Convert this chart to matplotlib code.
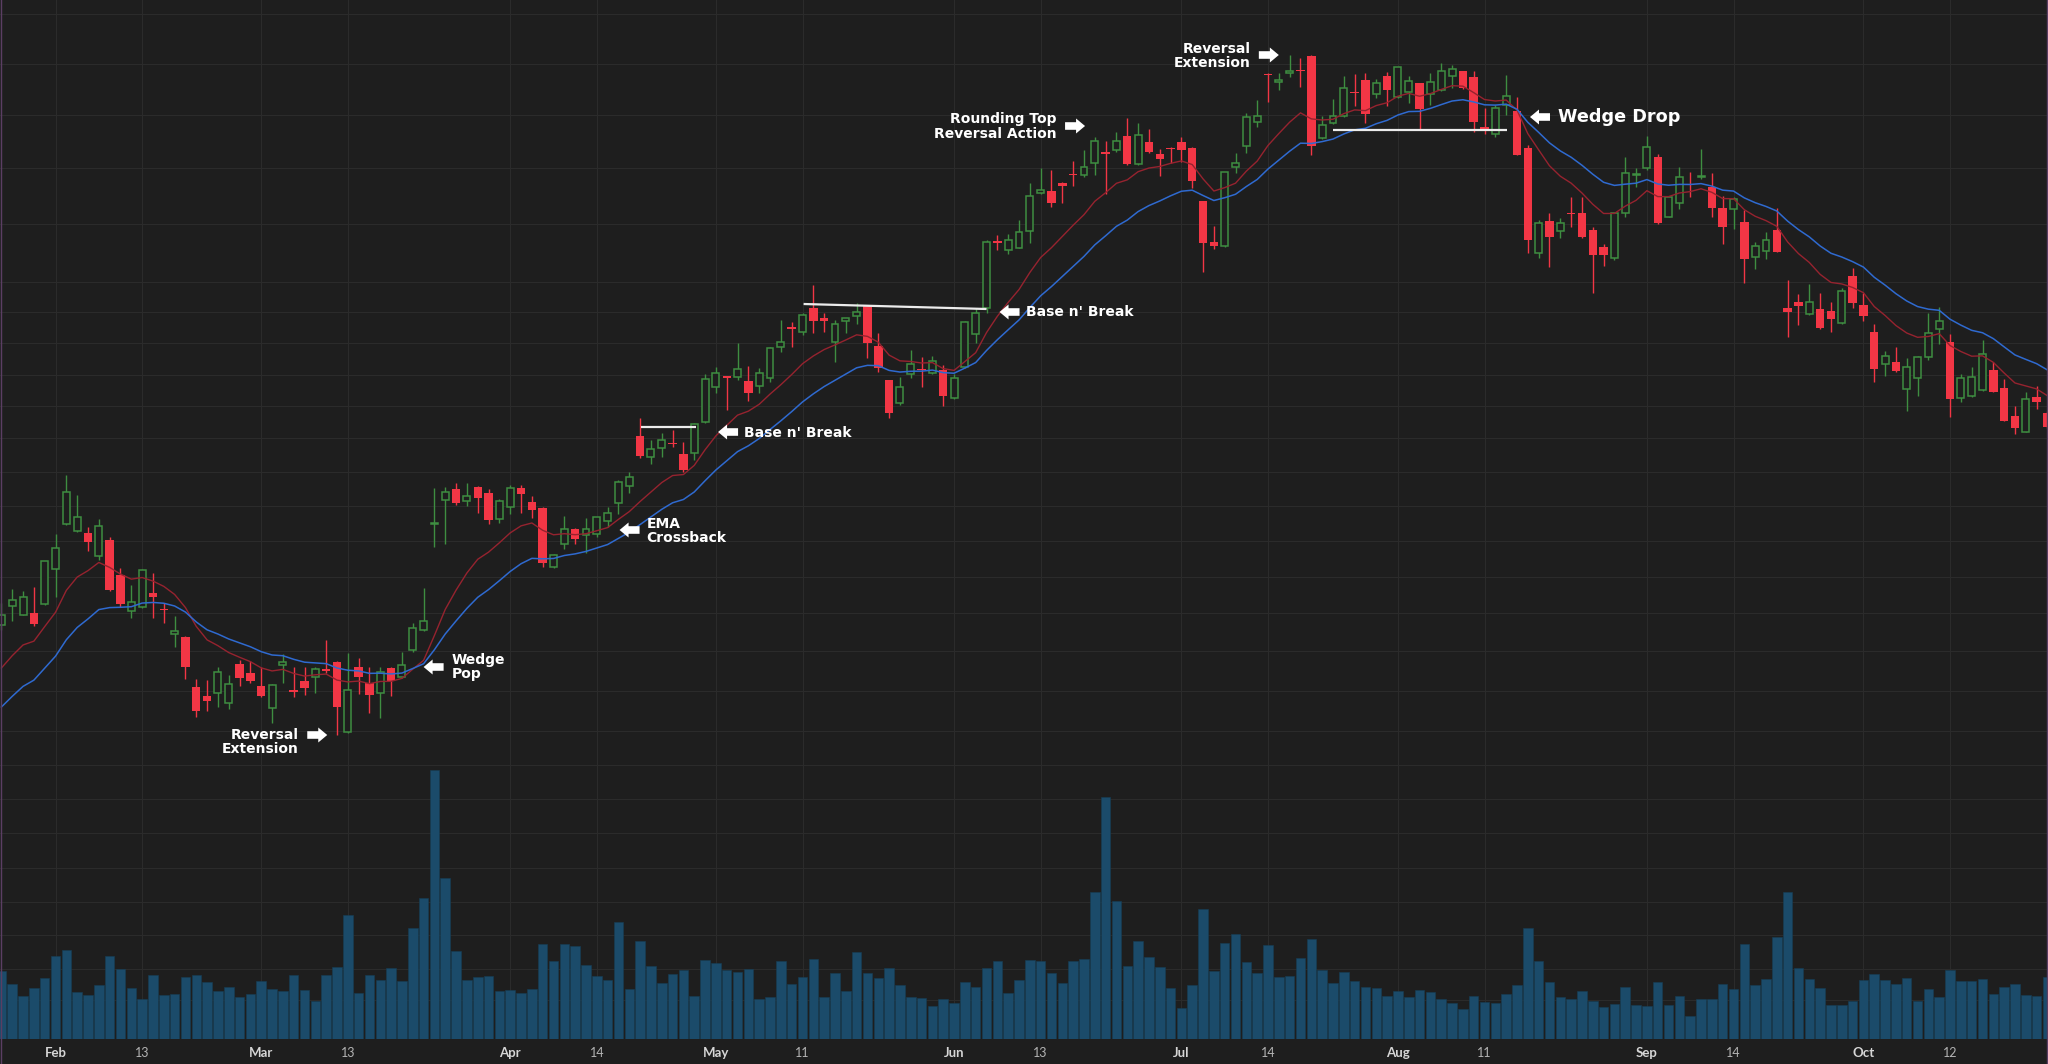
import numpy as np
import pandas as pd
import matplotlib
matplotlib.use("Agg")
import matplotlib.pyplot as plt
from matplotlib import transforms
from matplotlib.patches import Polygon
from matplotlib.lines import Line2D
from matplotlib.ticker import FixedLocator

# ─── Data ────────────────────────────────────────────────────────────
holidays = ['2023-02-20', '2023-04-07', '2023-05-29', '2023-06-19',
            '2023-07-04', '2023-09-04']
dates = pd.bdate_range('2023-01-25', '2023-10-25', freq='C', holidays=holidays)

opens = [37.50, 39.40, 38.50, 38.67, 39.60, 43.07, 47.63, 46.90, 46.67, 44.43,
         46.00, 42.50, 38.90, 39.33, 40.67, 39.03, 36.57, 36.33, 31.33, 30.37,
         30.70, 29.73, 33.60, 32.70, 31.37, 29.17, 33.53, 31.00, 31.90, 32.30,
         33.07, 33.77, 26.83, 33.27, 31.73, 30.67, 33.17, 32.33, 35.00, 37.00,
         47.60, 50.00, 51.07, 49.90, 51.33, 50.67, 48.07, 49.33, 51.17, 49.83,
         49.23, 43.27, 45.60, 47.13, 46.50, 46.60, 47.93, 49.73, 51.40, 56.40,
         54.33, 55.17, 55.70, 54.60, 54.67, 57.77, 61.27, 62.40, 62.27, 61.93,
         61.40, 62.17, 65.33, 67.33, 66.77, 69.23, 68.17, 65.83, 67.93, 68.40,
         69.43, 65.40, 62.00, 59.67, 62.57, 63.10, 62.67, 63.00, 60.17, 63.33,
         66.57, 69.17, 75.90, 75.00, 75.17, 76.90, 80.67, 80.90, 81.67, 82.60,
         82.50, 83.67, 84.77, 85.00, 86.43, 83.60, 85.77, 84.57, 85.17, 85.77,
         85.23, 79.90, 75.83, 75.40, 83.27, 85.40, 87.77, 92.60, 91.83, 92.70,
         93.00, 94.40, 86.17, 87.67, 88.40, 90.73, 92.00, 90.57, 92.40, 90.27,
         90.83, 91.73, 90.60, 91.00, 92.40, 92.90, 92.33, 87.27, 86.57, 89.50,
         88.93, 85.17, 74.67, 77.90, 76.93, 78.67, 78.67, 77.00, 75.27, 74.17,
         78.67, 82.50, 83.17, 84.27, 78.33, 79.73, 81.53, 82.33, 81.27, 79.23,
         79.10, 77.83, 74.27, 74.93, 77.00, 69.23, 69.83, 68.57, 69.07, 68.93,
         67.73, 72.43, 69.50, 66.83, 63.60, 63.80, 61.10, 62.17, 64.33, 67.13,
         65.83, 60.17, 60.43, 61.00, 63.00, 61.17, 58.40, 56.83, 60.27, 58.67]
highs = [39.67, 41.07, 40.93, 41.33, 43.95, 46.60, 52.50, 50.50, 47.33, 48.13,
         46.33, 43.17, 41.50, 43.07, 42.67, 39.67, 38.40, 36.40, 32.07, 32.00,
         33.33, 32.50, 34.00, 33.90, 33.33, 31.60, 34.57, 33.33, 33.33, 33.27,
         36.00, 33.90, 34.67, 34.17, 33.33, 33.33, 33.33, 34.83, 37.73, 41.17,
         51.17, 51.27, 51.67, 51.67, 51.40, 51.07, 50.07, 51.50, 51.50, 50.43,
         49.27, 44.60, 48.40, 47.23, 48.17, 48.33, 49.33, 52.00, 52.83, 58.17,
         56.00, 56.67, 57.00, 55.83, 57.67, 62.60, 63.33, 62.45, 65.67, 63.40,
         63.17, 65.33, 68.00, 67.83, 68.67, 71.50, 68.73, 68.00, 68.25, 69.67,
         69.50, 66.73, 62.05, 62.27, 65.00, 64.33, 64.40, 63.50, 62.60, 67.90,
         69.17, 76.00, 76.50, 76.60, 78.00, 81.67, 83.17, 83.00, 81.83, 83.93,
         85.00, 86.33, 85.90, 86.83, 88.17, 87.67, 87.10, 85.07, 85.27, 86.27,
         85.33, 79.95, 77.40, 82.80, 84.67, 88.67, 90.00, 92.67, 92.73, 94.50,
         94.17, 94.50, 88.40, 90.07, 92.40, 92.57, 92.67, 92.07, 92.83, 93.35,
         92.40, 91.75, 92.67, 93.67, 93.50, 92.93, 92.90, 89.17, 89.50, 92.50,
         90.33, 85.50, 78.00, 78.67, 78.17, 80.33, 80.27, 77.33, 75.60, 78.73,
         84.27, 83.17, 86.40, 84.60, 80.40, 83.33, 82.83, 85.07, 82.67, 80.40,
         80.33, 79.00, 75.77, 76.83, 79.17, 72.00, 70.57, 71.57, 70.67, 69.77,
         71.23, 73.17, 70.73, 67.57, 64.93, 65.33, 64.17, 64.43, 68.73, 69.33,
         66.57, 62.60, 63.27, 66.00, 63.83, 62.07, 59.43, 60.83, 61.43, 58.90]
lows = [37.00, 37.93, 38.47, 37.43, 39.55, 40.33, 47.50, 46.83, 44.93, 44.00,
        40.90, 39.33, 38.17, 39.17, 38.17, 37.67, 35.27, 32.07, 28.27, 28.93,
        29.27, 29.07, 31.40, 31.73, 30.33, 27.67, 31.67, 30.27, 30.53, 30.67,
        32.67, 26.47, 26.67, 30.60, 28.67, 28.17, 30.40, 32.17, 34.77, 36.93,
        45.33, 45.57, 49.50, 49.40, 48.67, 47.60, 47.67, 48.57, 48.67, 48.17,
        43.33, 43.17, 45.07, 45.57, 44.73, 46.27, 47.27, 48.60, 50.67, 54.17,
        53.60, 54.33, 55.33, 52.83, 54.00, 57.67, 60.67, 59.00, 62.00, 59.93,
        60.67, 61.83, 64.83, 65.27, 66.50, 66.67, 66.83, 63.83, 66.67, 67.60,
        64.17, 62.83, 58.17, 59.50, 62.17, 61.27, 62.60, 59.40, 60.10, 63.17,
        65.73, 68.73, 75.00, 74.60, 75.17, 75.73, 80.60, 79.27, 79.67, 81.43,
        82.27, 82.50, 80.60, 84.83, 83.50, 83.50, 84.67, 82.40, 83.73, 83.83,
        81.23, 72.83, 75.07, 75.33, 82.67, 84.73, 87.33, 89.83, 91.00, 92.33,
        91.27, 84.50, 86.10, 87.60, 88.33, 89.40, 87.67, 90.17, 89.40, 90.17,
        89.67, 87.07, 89.50, 90.93, 91.17, 91.10, 86.83, 86.57, 86.33, 88.50,
        84.48, 74.67, 74.17, 73.33, 76.17, 77.33, 76.25, 70.67, 73.40, 74.00,
        78.33, 81.33, 83.00, 77.65, 78.27, 79.07, 80.33, 82.07, 78.33, 75.57,
        77.07, 71.73, 73.10, 74.07, 74.78, 66.33, 67.50, 68.50, 67.10, 66.83,
        67.60, 69.17, 67.93, 61.83, 62.43, 62.77, 58.93, 60.40, 64.00, 65.60,
        58.33, 59.83, 60.33, 60.93, 60.77, 57.88, 56.60, 56.77, 59.07, 57.20]
closes = [38.47, 39.97, 40.33, 37.60, 43.90, 45.23, 50.83, 48.27, 45.83, 47.43,
          41.03, 39.57, 39.83, 42.97, 40.30, 38.97, 36.93, 33.33, 28.90, 29.93,
          32.83, 31.63, 32.17, 31.87, 30.40, 31.53, 33.77, 30.83, 31.20, 33.10,
          32.93, 29.27, 31.00, 32.27, 30.47, 32.83, 31.93, 33.50, 37.23, 37.93,
          47.67, 50.77, 49.67, 50.43, 50.23, 48.00, 49.93, 51.17, 50.57, 49.00,
          43.67, 44.50, 47.13, 46.07, 47.07, 48.27, 48.67, 51.77, 52.33, 54.40,
          55.07, 56.00, 55.60, 53.00, 57.57, 62.07, 62.67, 62.17, 63.10, 60.67,
          62.67, 65.17, 65.77, 67.10, 68.50, 67.90, 67.93, 67.60, 68.23, 68.83,
          65.67, 63.17, 58.67, 61.33, 63.57, 63.00, 63.93, 60.43, 62.17, 67.83,
          68.73, 75.80, 75.70, 76.00, 76.83, 80.43, 81.00, 79.67, 81.43, 82.50,
          83.27, 85.90, 84.60, 85.90, 83.57, 86.50, 84.83, 84.07, 85.07, 85.00,
          81.90, 75.67, 75.43, 82.77, 83.67, 88.33, 88.40, 92.50, 92.00, 92.90,
          92.90, 85.40, 87.50, 88.40, 91.17, 90.70, 88.60, 91.73, 91.00, 93.33,
          91.93, 89.07, 91.83, 92.93, 93.13, 91.17, 87.83, 86.93, 89.23, 90.43,
          84.50, 76.00, 77.73, 76.27, 77.67, 78.57, 76.27, 74.50, 74.50, 78.67,
          82.67, 82.60, 85.27, 77.67, 80.33, 82.33, 81.47, 82.40, 79.17, 77.33,
          80.07, 74.07, 75.43, 75.97, 74.80, 68.77, 69.40, 69.77, 67.23, 68.10,
          70.93, 69.67, 68.40, 63.10, 64.43, 62.93, 63.33, 64.33, 66.73, 67.93,
          60.07, 62.17, 62.27, 64.57, 60.83, 57.90, 57.23, 60.07, 59.77, 57.33]
volumes = [6.80, 5.53, 4.27, 5.13, 6.10, 8.27, 8.93, 4.70, 4.43, 5.43,
           8.33, 6.97, 5.13, 3.97, 6.37, 4.43, 4.53, 6.20, 6.40, 5.67,
           4.77, 5.23, 4.23, 4.47, 5.83, 5.00, 4.80, 6.40, 4.90, 3.77,
           6.40, 7.17, 12.37, 4.57, 6.40, 5.90, 7.07, 5.80, 11.07, 14.10,
           26.87, 16.07, 8.83, 5.93, 6.17, 6.33, 4.83, 4.93, 4.57, 4.97,
           9.47, 7.77, 9.50, 9.27, 7.37, 6.30, 5.87, 11.73, 5.00, 9.77,
           7.27, 5.57, 6.47, 6.93, 4.33, 7.87, 7.57, 6.93, 6.70, 7.03,
           4.00, 4.23, 7.80, 5.50, 6.20, 8.03, 4.17, 6.60, 4.77, 8.73,
           6.57, 6.10, 7.07, 5.40, 4.17, 4.10, 3.27, 4.00, 3.60, 5.70,
           5.17, 7.10, 7.80, 4.63, 5.87, 7.87, 7.80, 6.60, 5.60, 7.77,
           7.97, 14.70, 24.20, 13.80, 7.30, 9.77, 8.23, 7.23, 5.07, 3.07,
           5.37, 12.97, 6.77, 9.57, 10.53, 7.70, 6.57, 9.40, 6.20, 6.30,
           8.10, 9.97, 6.87, 5.63, 6.70, 5.83, 5.23, 5.13, 4.27, 4.80,
           4.23, 4.93, 4.70, 3.97, 3.57, 3.00, 4.33, 3.67, 3.63, 4.47,
           5.37, 11.07, 7.83, 5.73, 4.17, 3.97, 4.77, 3.77, 3.20, 3.47,
           5.23, 3.37, 3.30, 5.70, 3.40, 4.33, 2.27, 4.03, 3.97, 5.53,
           4.97, 9.50, 5.37, 5.97, 10.20, 14.70, 7.07, 5.97, 5.07, 3.40,
           3.37, 3.80, 5.87, 6.53, 5.87, 5.47, 6.10, 3.77, 4.97, 4.17,
           6.93, 5.80, 5.83, 6.00, 4.53, 5.17, 5.47, 4.43, 4.33, 6.17]

# EMA values on the first visible session (history before it is off-chart)
ema_fast_start = 33.2
ema_slow_start = 29.3

mid_month_days = ['2023-02-13', '2023-03-13', '2023-04-14', '2023-05-11',
                  '2023-06-13', '2023-07-14', '2023-08-11', '2023-09-14',
                  '2023-10-12']

# annotations: text, text anchor (session, price), alignment, arrow tip, direction, size
notes = [
    ("Reversal\nExtension", 27.5, 25.8, 'right', 30.1, 26.5, 'right', 10),
    ("Wedge\nPop", 41.6, 33.3, 'left', 39.0, 33.3, 'left', 10),
    ("EMA\nCrossback", 59.6, 46.9, 'left', 57.1, 47.0, 'left', 10),
    ("Base n' Break", 68.6, 56.7, 'left', 66.2, 56.8, 'left', 10),
    ("Base n' Break", 94.6, 68.8, 'left', 92.2, 68.8, 'left', 10),
    ("Rounding Top\nReversal Action", 97.5, 87.35, 'right', 100.1, 87.4, 'right', 10),
    ("Reversal\nExtension", 115.4, 94.4, 'right', 118.0, 94.5, 'right', 10),
    ("Wedge Drop", 143.8, 88.3, 'left', 141.2, 88.3, 'left', 12.7),
]
base_lines = [((59.1, 57.3), (64.2, 57.3)),
              ((74.1, 69.6), (91.0, 69.1)),
              ((123.0, 87.0), (139.1, 87.0))]

# ─── Style ───────────────────────────────────────────────────────────
BG = '#1e1e1e'
GRID = '#2b2b2b'
GREEN = '#3e8e41'
RED = '#f23645'
EMA_FAST = '#96232f'
EMA_SLOW = '#2f6ad0'
VOL = '#1b4b6a'
plt.rcParams['font.family'] = ['Lato', 'DejaVu Sans']
NOTE_FONT = ['DejaVu Sans']

o = np.array(opens); h = np.array(highs); l = np.array(lows); c = np.array(closes)
x = np.arange(len(dates))


def ema(values, start, alpha):
    out = np.empty(len(values))
    out[0] = start
    for k in range(1, len(values)):
        out[k] = out[k - 1] + alpha * (values[k] - out[k - 1])
    return out


def block_arrow(ax, tip_x, tip_y, direction):
    # shape in pixels (figure at 100 dpi -> /100 gives inches)
    pts = np.array([(0, 0), (-9, 7.5), (-9, 3.8), (-20, 3.8),
                    (-20, -3.8), (-9, -3.8), (-9, -7.5)], float) / 100.0
    if direction == 'left':
        pts[:, 0] *= -1
    trans = ax.figure.dpi_scale_trans + transforms.ScaledTranslation(tip_x, tip_y, ax.transData)
    ax.add_patch(Polygon(pts, closed=True, facecolor='white', edgecolor='none',
                         transform=trans, zorder=7))


fig = plt.figure(figsize=(20.48, 10.64), dpi=100, facecolor=BG)
bottom = 25 / 1064
ax = fig.add_axes([0, bottom, 1, 1 - bottom], facecolor=BG)

# volume overlay
vax = ax.twinx()
vax.bar(x, volumes, width=0.88, color=VOL, edgecolor='#163d55', linewidth=0.4, zorder=1)
vax.set_ylim(0, 103.9)
vax.set_axis_off()

# candles
up = c >= o
lo = np.minimum(o, c)
hi = np.maximum(o, c)
hgt = np.maximum(hi - lo, 0.12)
ax.vlines(x[up], l[up], h[up], color=GREEN, lw=1.0, zorder=2)
ax.vlines(x[~up], l[~up], h[~up], color=RED, lw=1.0, zorder=2)
ax.bar(x[up], hgt[up], bottom=lo[up], width=0.64, facecolor=BG,
       edgecolor=GREEN, linewidth=1.1, zorder=3)
ax.bar(x[~up], hgt[~up], bottom=lo[~up], width=0.78, color=RED,
       linewidth=0, zorder=3)

# moving averages
ax.plot(x, ema(c, ema_fast_start, 2 / 11), color=EMA_FAST, lw=1.0, zorder=4)
ax.plot(x, ema(c, ema_slow_start, 0.1), color=EMA_SLOW, lw=1.1, zorder=4)

# base lines
for (x0, y0), (x1, y1) in base_lines:
    ax.plot([x0, x1], [y0, y1], color='#ececec', lw=1.6, zorder=5, solid_capstyle='butt')

# annotations
for text, tx, ty, ha, ax_x, ax_y, direction, size in notes:
    ax.text(tx, ty, text, color='white', fontsize=size, fontweight='bold',
            family=NOTE_FONT, ha=ha, va='center', multialignment=ha,
            linespacing=1.05, zorder=7)
    block_arrow(ax, ax_x, ax_y, direction)

# axes
ax.set_xlim(-0.13, 189.05)
ax.set_ylim(-3.9, 100)

month_firsts = dates.to_series().groupby(dates.to_period('M')).first().iloc[1:]
month_pos = list(dates.get_indexer(month_firsts))
mid_pos = list(dates.get_indexer(pd.to_datetime(mid_month_days)))
tick_pos = sorted(month_pos + mid_pos)
labels = [dates[p].strftime('%b') if p in month_pos else str(dates[p].day) for p in tick_pos]
ax.set_xticks(tick_pos)
ax.set_xticklabels(labels)
for lab, p in zip(ax.get_xticklabels(), tick_pos):
    if p in month_pos:
        lab.set_fontweight('bold')
        lab.set_color('#d6d6d6')
        lab.set_fontsize(9.5)
    else:
        lab.set_color('#b4b4b4')
        lab.set_fontsize(9)

grid_levels = [98.6, 93.6, 88.5, 83.2, 77.6, 71.8, 68.8, 65.7, 62.5, 59.4,
               56.2, 52.8, 49.4, 45.9, 42.3, 38.7, 34.9, 30.9, 26.9, 23.5,
               20.1, 16.7, 13.2, 9.8, 6.5, 3.1, 0.0]
ax.yaxis.set_major_locator(FixedLocator(grid_levels))
ax.tick_params(axis='y', left=False, labelleft=False)
ax.tick_params(axis='x', length=0, pad=6)
ax.grid(True, color=GRID, lw=0.8)
ax.set_axisbelow(True)
for s in ax.spines.values():
    s.set_visible(False)

# thin frame edges as in the screenshot
fig.add_artist(Line2D([0.0006, 0.0006], [0, 1], color='#5b3e63', lw=1.0))
fig.add_artist(Line2D([0.9994, 0.9994], [0, 1], color='#5b3e63', lw=1.0))

plt.savefig('out.png', dpi=100, facecolor=BG)
